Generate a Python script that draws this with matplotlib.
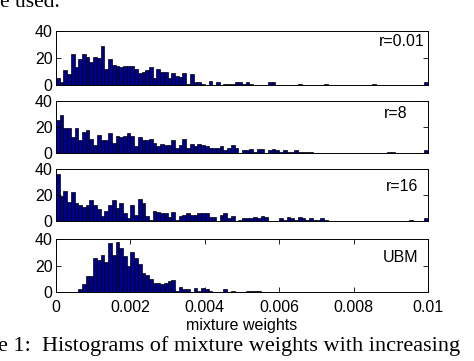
import numpy as np
import matplotlib
matplotlib.use('Agg')
import matplotlib.pyplot as plt

plt.rcParams['font.family'] = ['Liberation Sans', 'DejaVu Sans']

# bin edges: 100 bins over 0..0.01
x_min = 0.0
x_max = 0.01
n_bins = 100

# counts per bin
counts_r001 = [
    5, 2, 11, 8, 23, 13, 19, 23, 21, 17, 21, 20, 29, 12, 19, 15, 14, 13, 14, 14,
    14, 12, 9, 10, 11, 13, 5, 12, 10, 10, 5, 9, 7, 6, 9, 1, 8, 2, 2, 1,
    0, 3, 0, 2, 0, 1, 1, 1, 2, 2, 1, 2, 1, 0, 0, 0, 0, 2, 2, 0,
    0, 0, 0, 0, 0, 1, 0, 0, 0, 0, 0, 0, 1, 0, 0, 0, 0, 0, 0, 0,
    0, 0, 0, 0, 0, 1, 0, 0, 0, 0, 0, 0, 0, 0, 0, 0, 0, 0, 0, 2,
]
counts_r8 = [
    25, 29, 19, 19, 12, 19, 10, 16, 18, 11, 6, 14, 10, 10, 15, 8, 13, 12, 13, 15,
    13, 5, 12, 10, 10, 11, 8, 5, 7, 6, 6, 10, 4, 6, 11, 4, 7, 5, 7, 6,
    5, 4, 4, 4, 5, 2, 4, 6, 4, 0, 2, 2, 3, 1, 3, 3, 0, 2, 3, 2,
    1, 2, 1, 1, 2, 1, 1, 1, 1, 0, 0, 0, 0, 0, 0, 0, 0, 0, 0, 0,
    0, 0, 0, 0, 0, 0, 0, 0, 0, 1, 1, 0, 0, 0, 0, 0, 0, 0, 0, 2,
]
counts_r16 = [
    36, 19, 23, 15, 22, 14, 12, 11, 12, 16, 12, 9, 4, 8, 12, 16, 10, 14, 6, 2,
    12, 5, 17, 14, 4, 1, 8, 7, 6, 6, 3, 7, 1, 4, 5, 6, 5, 5, 6, 6,
    6, 3, 3, 0, 5, 6, 2, 4, 0, 1, 2, 2, 2, 3, 2, 4, 3, 0, 0, 0,
    2, 1, 3, 2, 1, 3, 2, 1, 2, 1, 1, 2, 1, 0, 0, 0, 0, 0, 0, 0,
    0, 0, 0, 0, 0, 0, 0, 0, 0, 0, 0, 0, 0, 0, 0, 1, 0, 0, 0, 2,
]
counts_ubm = [
    0, 0, 0, 0, 0, 0, 2, 6, 12, 12, 26, 24, 28, 23, 37, 28, 38, 33, 27, 20,
    30, 26, 21, 14, 13, 10, 7, 7, 6, 7, 8, 9, 1, 4, 2, 2, 0, 3, 1, 3,
    2, 1, 0, 0, 0, 2, 0, 1, 0, 0, 0, 1, 1, 1, 1, 0, 0, 0, 0, 0,
    0, 0, 0, 0, 0, 0, 0, 0, 0, 0, 0, 0, 0, 0, 0, 0, 0, 0, 0, 0,
    0, 0, 0, 0, 0, 0, 0, 0, 0, 0, 0, 0, 0, 0, 0, 0, 0, 0, 0, 0,
]

panel_labels = ['r=0.01', 'r=8', 'r=16', 'UBM']
y_ticks = [0, 20, 40]
x_ticks = [0, 0.002, 0.004, 0.006, 0.008, 0.01]
x_tick_labels = ['0', '0.002', '0.004', '0.006', '0.008', '0.01']
x_label = 'mixture weights'
text_above = 'e used.'
caption = 'e 1:  Histograms of mixture weights with increasing'

all_counts = [counts_r001, counts_r8, counts_r16, counts_ubm]

# layout (pixels from top in a 474x361 picture)
W, H = 474, 361
left_px, right_px = 56, 428
panel_px = [(31, 85), (101, 153), (169, 221), (239, 292)]
label_pos = [(0.99, 0.80), (0.944, 0.76), (0.975, 0.66), (0.975, 0.66)]

bar_color = '#00008f'
tick_size = 11.5

fig = plt.figure(figsize=(W / 100, H / 100), dpi=100)

edges = np.linspace(x_min, x_max, n_bins + 1)
centers = 0.5 * (edges[:-1] + edges[1:])

for i, counts in enumerate(all_counts):
    top, bot = panel_px[i]
    ax = fig.add_axes([left_px / W, 1 - bot / H, (right_px - left_px) / W, (bot - top) / H])
    ax.hist(centers, bins=edges, weights=counts,
            color=bar_color, edgecolor='black', linewidth=0.5)
    ax.set_xlim(x_min, x_max)
    ax.set_ylim(0, 40)
    ax.set_yticks(y_ticks)
    ax.tick_params(axis='y', direction='in', right=True, length=3.5, width=0.6,
                   labelsize=tick_size, pad=2.5)
    if i < 3:
        ax.set_xticks([])
    else:
        ax.set_xticks(x_ticks)
        ax.set_xticklabels(x_tick_labels)
        ax.tick_params(axis='x', direction='in', top=True, length=3.5, width=0.6,
                       labelsize=tick_size, pad=5.5)
        ax.set_xlabel(x_label, fontsize=11.5, labelpad=2.5)
    for sp in ax.spines.values():
        sp.set_linewidth(0.7)
    ax.text(label_pos[i][0], label_pos[i][1], panel_labels[i], transform=ax.transAxes,
            ha='right', va='center', fontsize=tick_size)

fig.text(0.0, 1 - 7 / H, text_above, ha='left', va='baseline',
         fontsize=15.5, family=['Liberation Serif', 'DejaVu Serif'])
fig.text(-0.004, 1 - 351 / H, caption, ha='left', va='baseline',
         fontsize=16, family=['Liberation Serif', 'DejaVu Serif'])

fig.savefig('out.png', dpi=100)
